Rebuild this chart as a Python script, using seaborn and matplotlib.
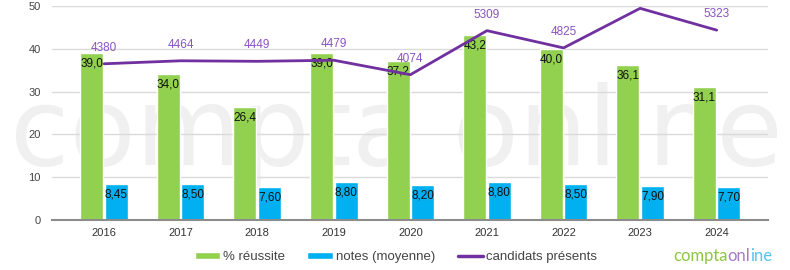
import numpy as np
import pandas as pd
import matplotlib
matplotlib.use("Agg")
import matplotlib.pyplot as plt
from matplotlib.patches import Patch
from matplotlib.lines import Line2D
import seaborn as sns

# data
years = ['2016', '2017', '2018', '2019', '2020', '2021', '2022', '2023', '2024']
reussite = [39.0, 34.0, 26.4, 39.0, 37.2, 43.2, 40.0, 36.1, 31.1]
notes = [8.45, 8.50, 7.60, 8.80, 8.20, 8.80, 8.50, 7.90, 7.70]
candidats = [4380, 4464, 4449, 4479, 4074, 5309, 4825, 5935, 5323]
# the 2023 label is not shown on the reference (it falls off the top)
candidats_labels = ['4380', '4464', '4449', '4479', '4074', '5309', '4825', '', '5323']
series_names = ['% réussite', 'notes (moyenne)', 'candidats présents']

green = '#92d050'
blue = '#00b0f0'
purple = '#7030a0'
purple_txt = '#8a52c2'

sns.set_style("white")
plt.rcParams['font.family'] = ['Liberation Sans', 'DejaVu Sans']

df = pd.DataFrame({
    'annee': years * 2,
    'valeur': reussite + notes,
    'serie': [series_names[0]] * len(years) + [series_names[1]] * len(years),
})

fig = plt.figure(figsize=(7.9, 2.7), dpi=100)
fig.patch.set_facecolor('white')
ax = fig.add_axes([52 / 790, 1 - 220 / 270, 716 / 790, 214 / 270])
ax.patch.set_alpha(0)

# big watermark behind the chart
wm = fig.text(10 / 790, 1 - 165 / 270, 'compta online', fontsize=100,
              family='DejaVu Sans', color='#f0f0f0', ha='left', va='baseline', zorder=-5)
fig.canvas.draw()
w = wm.get_window_extent().width
wm.set_fontsize(100 * 772 / w)

sns.barplot(data=df, x='annee', y='valeur', hue='serie', palette=[green, blue],
            width=0.64, gap=0.06, saturation=1, errorbar=None, legend=False, ax=ax)

fmts = ['{:.1f}', '{:.2f}']
for cont, fmt in zip(ax.containers, fmts):
    for p in cont:
        v = p.get_height()
        ax.annotate(fmt.format(v).replace('.', ','),
                    (p.get_x() + p.get_width() / 2, v), xytext=(0, -7.5),
                    textcoords='offset points', ha='center', va='center',
                    fontsize=8.5, color='#111111', zorder=5)

ax.set_ylim(0, 50)
ax.set_yticks([0, 10, 20, 30, 40, 50])
ax.set_xlim(-0.68, 8.67)
ax.set_xlabel('')
ax.set_ylabel('')
ax.yaxis.grid(True, color='#dadada', lw=1)
ax.set_axisbelow(True)
for s in ['top', 'right', 'left']:
    ax.spines[s].set_visible(False)
ax.spines['bottom'].set_color('#8c8c8c')
ax.spines['bottom'].set_linewidth(1.5)
ax.tick_params(axis='x', length=0, pad=6, labelsize=8, labelcolor='#333333')
ax.tick_params(axis='y', length=0, pad=8, labelsize=8, labelcolor='#444444')

# candidates on a hidden secondary axis
ax2 = ax.twinx()
xs = np.arange(len(years))
sns.lineplot(x=xs, y=candidats, ax=ax2, color=purple, lw=2)
ax2.set_ylim(0, 6000)
ax2.set_xlim(-0.68, 8.67)
ax2.set_yticks([])
for s in ax2.spines.values():
    s.set_visible(False)
for x, v, lab in zip(xs, candidats, candidats_labels):
    if lab:
        ax2.annotate(lab, (x, v), xytext=(0, 11.5), textcoords='offset points',
                     ha='center', va='center', fontsize=8.5, color=purple_txt)

handles = [Patch(facecolor=green), Patch(facecolor=blue),
           Line2D([], [], color=purple, lw=2.5)]
fig.legend(handles, series_names, loc='center', bbox_to_anchor=(0.501, 1 - 257 / 270),
           ncol=3, frameon=False, fontsize=9.5, handlelength=1.9, handleheight=0.45,
           handletextpad=0.25, columnspacing=1.7, labelcolor='#444444')

# small logo bottom right
t1 = fig.text(673 / 790, 1 - 261 / 270, 'compta', family='Lato', fontsize=12,
              color='#8cc63f', ha='left', va='baseline')
t2 = ax.annotate('onl', xy=(1, 0), xycoords=t1, ha='left', va='bottom',
                 family='Lato', fontsize=12, color='#a77bc4', annotation_clip=False)
t3 = ax.annotate('ine', xy=(1, 0), xycoords=t2, ha='left', va='bottom',
                 family='Lato', fontsize=12, color='#52c4f0', annotation_clip=False)

fig.savefig('out.png', dpi=100)
